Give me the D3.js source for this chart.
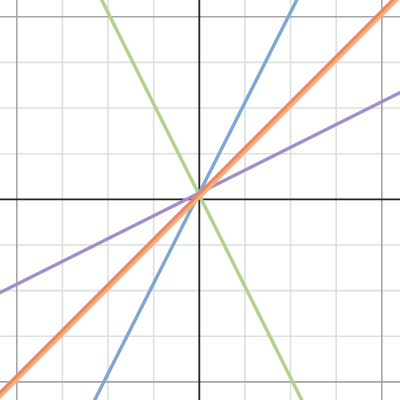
<!doctype html>
<html lang="en">
<head>
<meta charset="utf-8">
<title>Lines</title>
<script src="https://d3js.org/d3.v7.min.js"></script>
<style>
  html, body { margin: 0; padding: 0; background: #fff; }
  svg { display: block; }
</style>
</head>
<body>
<div id="main"></div>
<script>
// line data: y = slope * x + intercept
const lineNames = ['green', 'blue', 'purple', 'orange', 'red']
const slopes = [-2, 1.98, 0.5, 1, 1]
const intercepts = [0.045, 0.07, 0.07, 0.04, 0.065]
const lineColours = ['#b2d28c', '#7ea6d5', '#a48dc4', '#f6b07a', '#e2896e']
const lineWidths = [3.4, 3.4, 3.4, 6, 3]

// grid steps
const minorStep = 0.5
const majorStep = 2

const width = 400
const height = 400

const x = d3.scaleLinear().domain([-2.184, 2.199]).range([0, width])
const y = d3.scaleLinear().domain([-2.199, 2.184]).range([height, 0])

const svg = d3.select('#main').append('svg')
  .attr('width', width)
  .attr('height', height)

const xs = d3.range(-4, 4.001, minorStep).filter(v => v >= x.domain()[0] && v <= x.domain()[1])
const ys = d3.range(-4, 4.001, minorStep).filter(v => v >= y.domain()[0] && v <= y.domain()[1])

const isMajor = v => Math.abs(v / majorStep - Math.round(v / majorStep)) < 1e-6

const grid = svg.append('g')

// minor grid first, then major, then axes
const minorX = xs.filter(v => !isMajor(v))
const minorY = ys.filter(v => !isMajor(v))
const majorX = xs.filter(v => isMajor(v) && v !== 0)
const majorY = ys.filter(v => isMajor(v) && v !== 0)

grid.selectAll('line.minor-x').data(minorX).enter().append('line')
  .attr('x1', d => x(d)).attr('x2', d => x(d))
  .attr('y1', 0).attr('y2', height)
  .attr('stroke', '#dedede').attr('stroke-width', 1.6)
grid.selectAll('line.minor-y').data(minorY).enter().append('line')
  .attr('y1', d => y(d)).attr('y2', d => y(d))
  .attr('x1', 0).attr('x2', width)
  .attr('stroke', '#dedede').attr('stroke-width', 1.6)

grid.selectAll('line.major-x').data(majorX).enter().append('line')
  .attr('x1', d => x(d)).attr('x2', d => x(d))
  .attr('y1', 0).attr('y2', height)
  .attr('stroke', '#a6a6a6').attr('stroke-width', 1.6)
grid.selectAll('line.major-y').data(majorY).enter().append('line')
  .attr('y1', d => y(d)).attr('y2', d => y(d))
  .attr('x1', 0).attr('x2', width)
  .attr('stroke', '#a6a6a6').attr('stroke-width', 1.6)

// axes
grid.append('line')
  .attr('x1', x(0)).attr('x2', x(0)).attr('y1', 0).attr('y2', height)
  .attr('stroke', '#222').attr('stroke-width', 1.8)
grid.append('line')
  .attr('y1', y(0)).attr('y2', y(0)).attr('x1', 0).attr('x2', width)
  .attr('stroke', '#222').attr('stroke-width', 1.8)

const lines = lineNames.map((name, i) => ({
  name: name,
  slope: slopes[i],
  intercept: intercepts[i],
  colour: lineColours[i],
  width: lineWidths[i]
}))

const lineGen = d3.line().x(p => x(p[0])).y(p => y(p[1]))

svg.append('g').selectAll('path')
  .data(lines)
  .enter()
  .append('path')
  .attr('d', d => lineGen(x.domain().map(v => {
      const pad = (x.domain()[1] - x.domain()[0]) * 0.1
      const xv = v < 0 ? v - pad : v + pad
      return [xv, d.slope * xv + d.intercept]
  })))
  .attr('fill', 'none')
  .attr('stroke', d => d.colour)
  .attr('stroke-width', d => d.width)
</script>
</body>
</html>
